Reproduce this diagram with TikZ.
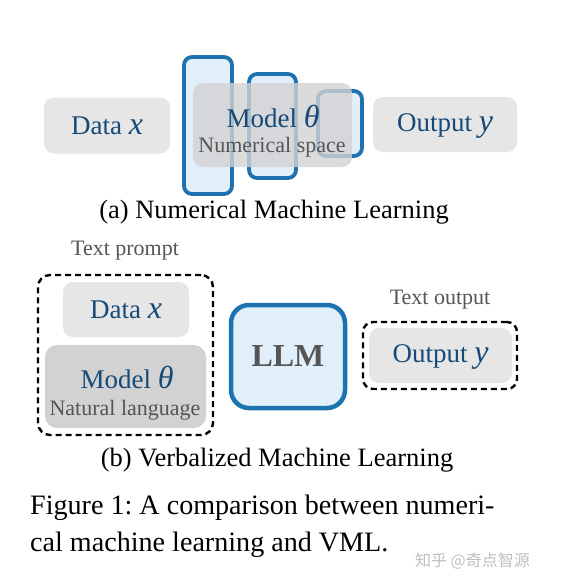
\documentclass[tikz,border=0pt]{standalone}
\usepackage{fontspec}
\setmainfont{Liberation Serif}
\newfontfamily\cjkfont{Noto Sans CJK SC}
\definecolor{bblue}{HTML}{1F72B0}
\definecolor{lblue}{HTML}{E1EFFA}
\definecolor{tblue}{HTML}{174A78}
\definecolor{lgray}{HTML}{E6E6E6}
\definecolor{mgray}{HTML}{D2D2D2}
\definecolor{tgray}{HTML}{555555}
\newcommand{\myvar}[1]{{\fontsize{32}{34}\selectfont\itshape #1}}
\frenchspacing
\begin{document}
\begin{tikzpicture}[x=1pt,y=-1pt,
  graybox/.style={fill=lgray,rounded corners=10pt,draw=none,inner sep=0pt},
  bluebox/.style={fill=lblue,draw=bblue,line width=3.8pt,rounded corners=8pt,inner sep=0pt},
  dashbox/.style={draw=black,dashed,dash pattern=on 6pt off 4pt,line width=2.4pt,rounded corners=12pt,inner sep=0pt},
  lbl/.style={text=tblue,font=\fontsize{27}{30}\selectfont,inner sep=0pt},
  sublbl/.style={text=tgray,font=\fontsize{22}{24}\selectfont,inner sep=0pt},
  captext/.style={text=black,font=\fontsize{26.5}{30}\selectfont,inner sep=0pt}]
\useasboundingbox (0,0) rectangle (582,586);
\fill[white] (0,0) rectangle (582,586);
% (a)
\node[graybox,minimum width=126pt,minimum height=56pt] (dataa) at (107,125.5) {};
\node[lbl] (dataatext) at (dataa.center) {Data \myvar{x}};
\node[bluebox,minimum width=48pt,minimum height=137pt] (layer1) at (208,125.5) {};
\node[bluebox,minimum width=47pt,minimum height=104pt] (layer2) at (272.5,126) {};
\node[bluebox,minimum width=44pt,minimum height=65pt] (layer3) at (340,123.5) {};
\node[fill=mgray,fill opacity=0.8,rounded corners=10pt,draw=none,inner sep=0pt,minimum width=159pt,minimum height=84pt] (modela) at (272.5,125) {};
\node[lbl] (modelatext) at (273,116) {Model \myvar{θ}};
\node[sublbl] (numsp) at (272,147) {Numerical space};
\node[graybox,minimum width=144pt,minimum height=55pt] (outa) at (445,124.5) {};
\node[lbl] (outatext) at (445,126) {Output \myvar{y}};
\node[captext] (capa) at (274,212) {(a) Numerical Machine Learning};
% (b)
\node[sublbl] (tprompt) at (125,251) {Text prompt};
\node[dashbox,minimum width=175pt,minimum height=160pt] (prompt) at (125.5,355) {};
\node[graybox,minimum width=126pt,minimum height=55pt] (datab) at (126,309.5) {};
\node[lbl] (databtext) at (datab.center) {Data \myvar{x}};
\node[fill=mgray,rounded corners=12pt,draw=none,inner sep=0pt,minimum width=161pt,minimum height=83pt] (modelb) at (125.5,386.5) {};
\node[lbl] (modelbtext) at (127,377) {Model \myvar{θ}};
\node[sublbl] (natlang) at (125,410) {Natural language};
\node[bluebox,line width=4.5pt,rounded corners=18pt,minimum width=114pt,minimum height=103pt] (llm) at (288,356.5) {};
\node[text=tgray,font=\fontsize{32}{34}\selectfont\bfseries,inner sep=0pt] (llmtext) at (llm.center) {LLM};
\node[sublbl] (toutput) at (440,300) {Text output};
\node[dashbox,rounded corners=10pt,minimum width=154pt,minimum height=67pt] (outbox) at (440,355.5) {};
\node[graybox,minimum width=143pt,minimum height=55pt] (outb) at (440.5,355.5) {};
\node[lbl] (outbtext) at (440.5,357) {Output \myvar{y}};
\node[captext] (capb) at (277,460) {(b) Verbalized Machine Learning};
% figure caption
\node[font=\fontsize{28.1}{36}\selectfont,anchor=base west,inner sep=0pt] (fig1) at (30,514) {Figure 1: A comparison between numeri-};
\node[font=\fontsize{28.1}{36}\selectfont,anchor=base west,inner sep=0pt] (fig2) at (30,551) {cal machine learning and VML.};
\node[font=\cjkfont\fontsize{16}{18}\selectfont,text=black!25,anchor=east,inner sep=0pt] (wm) at (530,561) {知乎 @奇点智源};
\end{tikzpicture}
\end{document}
